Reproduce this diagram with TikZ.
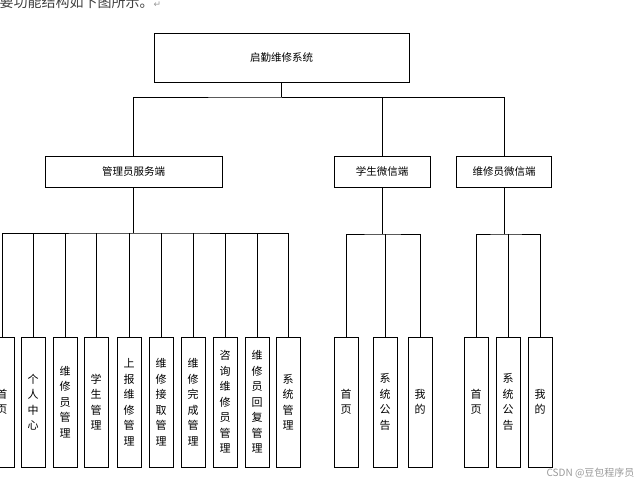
\documentclass[tikz,border=0pt]{standalone}
\usepackage{fontspec}
\setmainfont{Noto Sans CJK SC}
\newfontfamily\djv{DejaVu Sans}
\begin{document}
\begin{tikzpicture}[x=1pt,y=-1pt,
  box/.style={draw,line width=0.9pt,font=\fontsize{10.5}{13}\selectfont,inner sep=0pt},
  leaf/.style={draw,line width=0.9pt,minimum width=24pt,minimum height=130pt,inner sep=0pt,align=center,font=\fontsize{11}{15.5}\selectfont},
  conn/.style={line width=0.8pt}]
\useasboundingbox (0,0) rectangle (642,485);
\node[anchor=west,font=\fontsize{14}{16}\selectfont,text=black!75] (title) at (-4,2) {要功能结构如下图所示。\textcolor{black!40}{\djv\small↵}};
\node[box,minimum width=255pt,minimum height=49pt] (root) at (281.5,57.5) {启勤维修系统};
\node[box,minimum width=177pt,minimum height=31pt] (adm) at (133.5,171.5) {管理员服务端};
\node[box,minimum width=96pt,minimum height=31pt] (stu) at (382,171.5) {学生微信端};
\node[box,minimum width=95pt,minimum height=31pt] (rep) at (504,171.5) {维修员微信端};
\coordinate (b1) at (281.5,97);
\draw[conn] (root.south) -- (b1);
\draw[conn] (adm.north) |- (b1) -| (stu.north);
\draw[conn] (b1) -| (rep.north);
% admin leaves
\foreach \n/\x/\t in {a0/2/首\\页, a1/33/个\\人\\中\\心, a2/65/维\\修\\员\\管\\理, a3/96/学\\生\\管\\理, a4/129/上\\报\\维\\修\\管\\理, a5/161/维\\修\\接\\取\\管\\理, a6/193/维\\修\\完\\成\\管\\理, a7/225/咨\\询\\维\\修\\员\\管\\理, a8/257/维\\修\\员\\回\\复\\管\\理, a9/288/系\\统\\管\\理}{
  \node[leaf] (\n) at (\x,402) {\t};
}
\coordinate (ab) at (133.5,233);
\draw[conn] (adm.south) -- (ab);
\draw[conn] (a0.north) |- (ab) -| (a9.north);
\foreach \n in {a1,a2,a3,a4,a5,a6,a7,a8}{\draw[conn] (\n.north) -- (\n.north |- ab);}
% student
\foreach \n/\x/\t in {s0/346/首\\页, s1/385/系\\统\\公\\告, s2/420/我\\的}{\node[leaf] (\n) at (\x,402) {\t};}
\coordinate (sb) at (382,234);
\draw[conn] (stu.south) -- (sb);
\draw[conn] (s0.north) |- (sb) -| (s2.north);
\draw[conn] (s1.north) -- (s1.north |- sb);
% repair
\foreach \n/\x/\t in {r0/476/首\\页, r1/508/系\\统\\公\\告, r2/540/我\\的}{\node[leaf] (\n) at (\x,402) {\t};}
\coordinate (rb) at (504,234);
\draw[conn] (rep.south) -- (rb);
\draw[conn] (r0.north) |- (rb) -| (r2.north);
\draw[conn] (r1.north) -- (r1.north |- rb);
\node[anchor=east,text=black!40,font=\fontsize{10}{12}\selectfont] (wm) at (638,473) {CSDN @豆包程序员};
\end{tikzpicture}
\end{document}
